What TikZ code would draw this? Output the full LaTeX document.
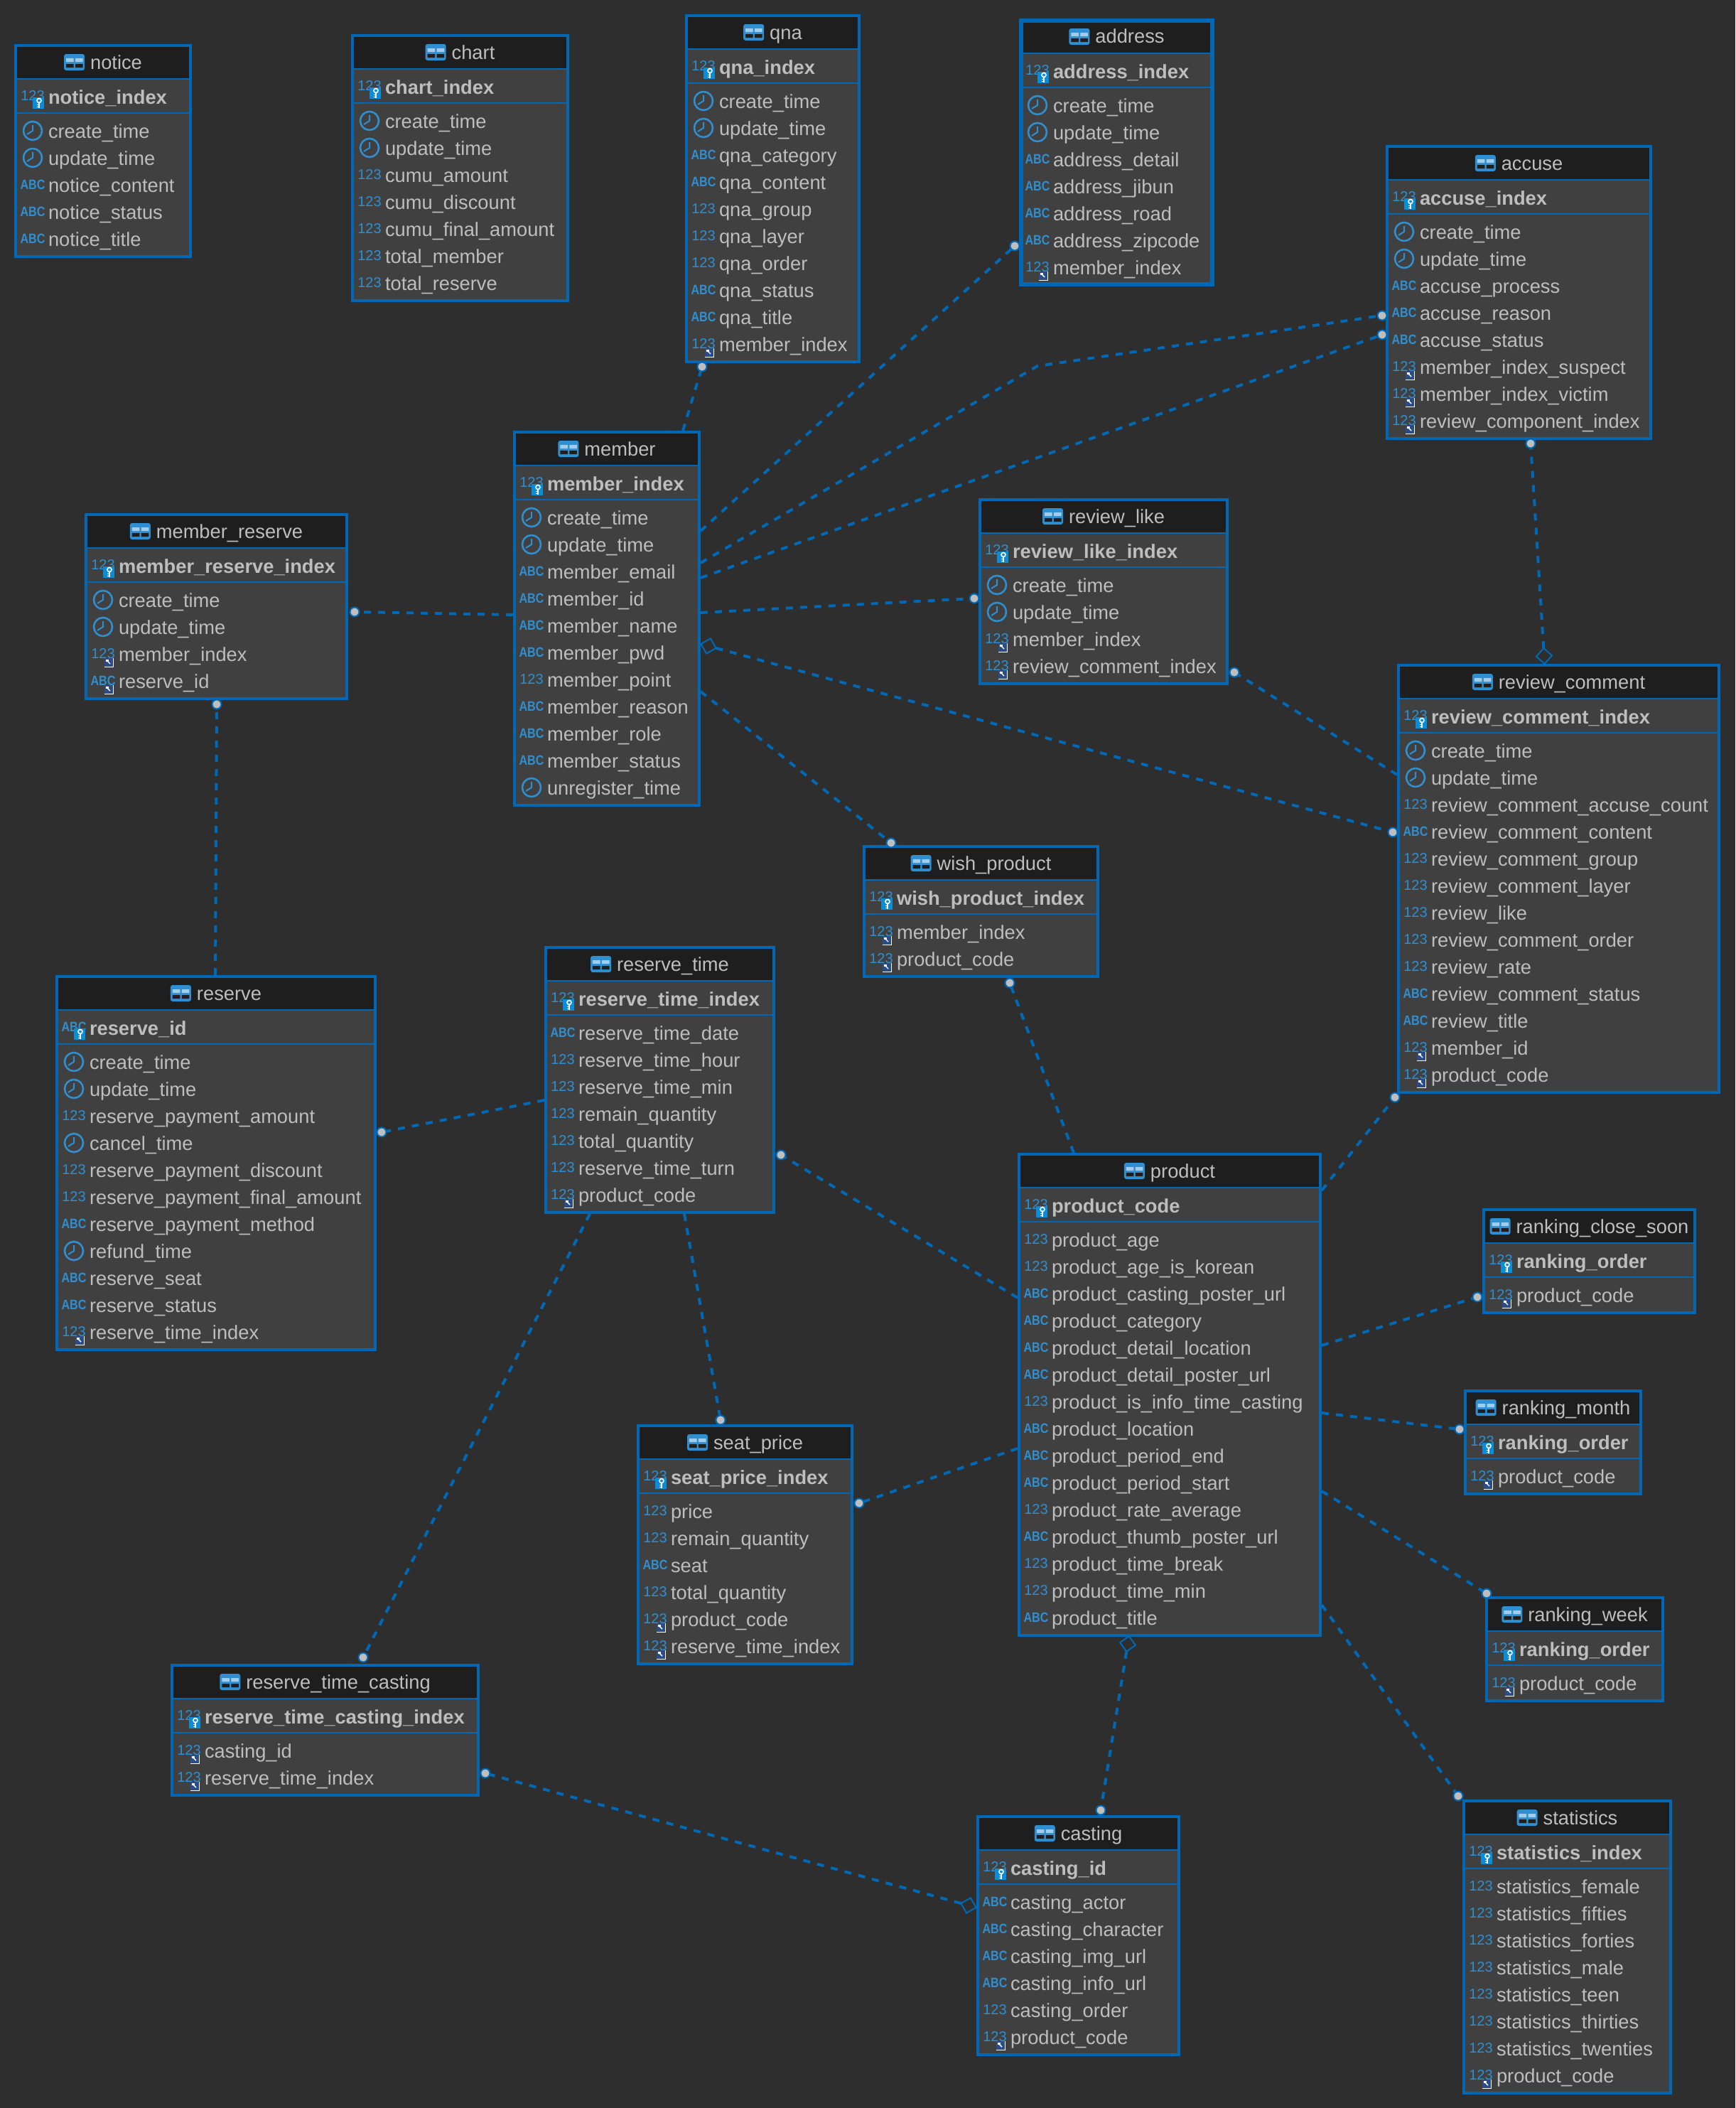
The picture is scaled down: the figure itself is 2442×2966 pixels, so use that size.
\documentclass[tikz,border=0pt]{standalone}
\usepackage{fontspec}
\setmainfont{Liberation Sans}
\usetikzlibrary{shapes.geometric,calc}
\definecolor{bgc}{HTML}{2E2E2E}
\definecolor{tablec}{HTML}{404040}
\definecolor{headc}{HTML}{1E1E1E}
\definecolor{bordc}{HTML}{0068B4}
\definecolor{textc}{HTML}{BEBEBE}
\definecolor{iconc}{HTML}{2F8FD0}
\definecolor{keyc}{HTML}{0A8CD6}
\definecolor{fkc}{HTML}{2B4C86}
\catcode`\_=12
\tikzset{
  x=0.5pt,y=-0.5pt,
  tablebox/.style={rectangle,inner sep=0pt,outer sep=0pt,fill=tablec,draw=bordc},
  rowtext/.style={inner sep=0pt,outer sep=0pt,anchor=base west,text=textc,font=\fontsize{13.65pt}{16pt}\selectfont},
  keytext/.style={rowtext,font=\fontsize{13.65pt}{16pt}\selectfont\bfseries},
  titletext/.style={rowtext,anchor=base},
  numicon/.style={inner sep=0pt,outer sep=0pt,text=iconc,font=\fontsize{10pt}{11pt}\selectfont},
  abcicon/.style={numicon,font=\fontsize{9.6pt}{11pt}\selectfont\bfseries,xscale=.84},
  sepline/.style={draw=bordc,line width=1pt},
  relline/.style={draw=bordc,line width=2pt,dash pattern=on 5pt off 5pt},
  fkdot/.style={circle,inner sep=0pt,outer sep=0pt,minimum size=6.5pt,fill=textc,draw=bordc,line width=1pt},
  pkdiamond/.style={diamond,aspect=1,inner sep=0pt,outer sep=0pt,minimum size=11pt,draw=bordc,line width=1pt},
}
% clock at centre (#1,#2)
\newcommand{\clockicon}[2]{%
  \draw[iconc,line width=1.3pt] (#1,#2) circle[radius=6.5pt];
  \draw[iconc,line width=1pt] (#1,#2-8) -- (#1,#2) -- (#1-8,#2+5);
}
% FK overlay with its left top corner at (#1,#2)
\newcommand{\fkbadge}[2]{%
  \fill[fkc] (#1,#2) rectangle (#1+12,#2+12);
  \draw[white,line width=.5pt] (#1+12,#2) -- (#1+12,#2+12) -- (#1,#2+12);
  \draw[white,line width=.7pt] (#1+3,#2+3) -- (#1+8,#2+8);
  \fill[white] (#1+2,#2+2) rectangle (#1+6,#2+5);
}
% key overlay at left top corner (#1,#2)
\newcommand{\keybadge}[2]{%
  \fill[keyc] (#1,#2) rectangle (#1+16,#2+16);
  \draw[white,line width=.8pt] (#1+9,#2+4.5) circle[radius=3];
  \draw[white,line width=.9pt] (#1+9,#2+7) -- (#1+9,#2+15);
  \draw[white,line width=.6pt] (#1+9,#2+10.5) -- (#1+6,#2+10.5) (#1+9,#2+13.5) -- (#1+6,#2+13.5);
}
% [border] name x1 y0 x2 keytype title key rows
\newcommand{\ertable}[9][4]{%
  \foreach \rt/\rs [count=\c] in {#9} {\xdef\rowcount{\c}}
  \node[tablebox,line width=#1*0.5pt,
    minimum width={(#5-#3-#1)*0.5pt},
    minimum height={(111+38*\rowcount-#1)*0.5pt}]
    (#2) at ({(#3+#5)/2},{#4+(111+38*\rowcount)/2}) {};
  \fill[headc] (#3+#1,#4+#1) rectangle (#5-#1,#4+48);
  \draw[sepline] (#3+#1,#4+49) -- (#5-#1,#4+49);
  \draw[sepline] (#3+#1,#4+97) -- (#5-#1,#4+97);
  \node[titletext] (#2-title) at ({(#3+#5)/2+18.5},#4+35) {#7};
  \begin{scope}[shift={(#2-title.base west)}]
    \fill[iconc,rounded corners=1.5pt] (-37,-21) rectangle (-8,2);
    \fill[iconc!45!white] (-34,-15) rectangle (-23.5,-10) (-21,-15) rectangle (-10.5,-10);
    \fill[headc] (-34,-7) rectangle (-23.5,-2) (-21,-7) rectangle (-10.5,-2);
  \end{scope}
  \node[keytext] (#2-key) at (#3+48,#4+84) {#8};
  \if n#6
    \node[numicon] (#2-keyicon) at (#3+26,#4+73) {123};
  \else
    \node[abcicon] (#2-keyicon) at (#3+26,#4+73) {ABC};
  \fi
  \keybadge{#3+26}{#4+75}
  \foreach \rt/\rs [count=\i] in {#9} {
    \pgfmathsetmacro{\cy}{#4+124+38*(\i-1)}
    \node[rowtext] (#2-row\i) at (#3+48,\cy+8) {\rs};
    \if c\rt \clockicon{#3+26}{\cy-2}\fi
    \if n\rt \node[numicon] (#2-icon\i) at (#3+26,\cy-2) {123};\fi
    \if a\rt \node[abcicon] (#2-icon\i) at (#3+26,\cy-2) {ABC};\fi
    \if F\rt \node[numicon] (#2-icon\i) at (#3+26,\cy-2) {123};\fkbadge{#3+28}{\cy+4}\fi
    \if G\rt \node[abcicon] (#2-icon\i) at (#3+26,\cy-2) {ABC};\fkbadge{#3+28}{\cy+4}\fi
  }
}
\begin{document}
\begin{tikzpicture}
\useasboundingbox (0,0) rectangle (2442,2966);
\fill[bgc] (0,0) rectangle (2442,2966);

\ertable{notice}{20}{62}{270}{n}{notice}{notice_index}{c/create_time,c/update_time,a/notice_content,a/notice_status,a/notice_title}
\ertable{chart}{494}{48}{801}{n}{chart}{chart_index}{c/create_time,c/update_time,n/cumu_amount,n/cumu_discount,n/cumu_final_amount,n/total_member,n/total_reserve}
\ertable{qna}{964}{20}{1211}{n}{qna}{qna_index}{c/create_time,c/update_time,a/qna_category,a/qna_content,n/qna_group,n/qna_layer,n/qna_order,a/qna_status,a/qna_title,F/member_index}
\ertable[6]{address}{1434}{26}{1709}{n}{address}{address_index}{c/create_time,c/update_time,a/address_detail,a/address_jibun,a/address_road,a/address_zipcode,F/member_index}
\ertable{accuse}{1950}{204}{2325}{n}{accuse}{accuse_index}{c/create_time,c/update_time,a/accuse_process,a/accuse_reason,a/accuse_status,F/member_index_suspect,F/member_index_victim,F/review_component_index}
\ertable{member}{722}{606}{986}{n}{member}{member_index}{c/create_time,c/update_time,a/member_email,a/member_id,a/member_name,a/member_pwd,n/member_point,a/member_reason,a/member_role,a/member_status,c/unregister_time}
\ertable{member_reserve}{119}{722}{490}{n}{member_reserve}{member_reserve_index}{c/create_time,c/update_time,F/member_index,G/reserve_id}
\ertable{review_like}{1377}{701}{1729}{n}{review_like}{review_like_index}{c/create_time,c/update_time,F/member_index,F/review_comment_index}
\ertable{review_comment}{1966}{934}{2421}{n}{review_comment}{review_comment_index}{c/create_time,c/update_time,n/review_comment_accuse_count,a/review_comment_content,n/review_comment_group,n/review_comment_layer,n/review_like,n/review_comment_order,n/review_rate,a/review_comment_status,a/review_title,F/member_id,F/product_code}
\ertable{wish_product}{1214}{1189}{1547}{n}{wish_product}{wish_product_index}{F/member_index,F/product_code}
\ertable{reserve_time}{766}{1331}{1091}{n}{reserve_time}{reserve_time_index}{a/reserve_time_date,n/reserve_time_hour,n/reserve_time_min,n/remain_quantity,n/total_quantity,n/reserve_time_turn,F/product_code}
\ertable{reserve}{78}{1372}{530}{a}{reserve}{reserve_id}{c/create_time,c/update_time,n/reserve_payment_amount,c/cancel_time,n/reserve_payment_discount,n/reserve_payment_final_amount,a/reserve_payment_method,c/refund_time,a/reserve_seat,a/reserve_status,F/reserve_time_index}
\ertable{product}{1432}{1622}{1860}{n}{product}{product_code}{n/product_age,n/product_age_is_korean,a/product_casting_poster_url,a/product_category,a/product_detail_location,a/product_detail_poster_url,n/product_is_info_time_casting,a/product_location,a/product_period_end,a/product_period_start,n/product_rate_average,a/product_thumb_poster_url,n/product_time_break,n/product_time_min,a/product_title}
\ertable{ranking_close_soon}{2086}{1700}{2387}{n}{ranking_close_soon}{ranking_order}{F/product_code}
\ertable{ranking_month}{2060}{1955}{2311}{n}{ranking_month}{ranking_order}{F/product_code}
\ertable{ranking_week}{2090}{2246}{2342}{n}{ranking_week}{ranking_order}{F/product_code}
\ertable{seat_price}{896}{2004}{1201}{n}{seat_price}{seat_price_index}{n/price,n/remain_quantity,a/seat,n/total_quantity,F/product_code,F/reserve_time_index}
\ertable{reserve_time_casting}{240}{2341}{675}{n}{reserve_time_casting}{reserve_time_casting_index}{F/casting_id,F/reserve_time_index}
\ertable{casting}{1374}{2554}{1661}{n}{casting}{casting_id}{a/casting_actor,a/casting_character,a/casting_img_url,a/casting_info_url,n/casting_order,F/product_code}
\ertable{statistics}{2058}{2532}{2353}{n}{statistics}{statistics_index}{n/statistics_female,n/statistics_fifties,n/statistics_forties,n/statistics_male,n/statistics_teen,n/statistics_thirties,n/statistics_twenties,F/product_code}

% connector ends on table borders
\coordinate (e1) at (961,606);
\coordinate (e2) at (986,747);
\coordinate (e3) at (986,792);
\coordinate (bend3) at (1460,515);
\coordinate (e4) at (986,813);
\coordinate (e5) at (986,862);
\coordinate (e7) at (986,973);
\coordinate (e8) at (722,865);
\coordinate (e9) at (303,1372);
\coordinate (e11) at (1966,1090);
\coordinate (e12) at (766,1548);
\coordinate (e13) at (1432,1826);
\coordinate (e14) at (1511,1622);
\coordinate (e15) at (1860,1675);
\coordinate (e16) at (1860,1893);
\coordinate (e17) at (1860,1988);
\coordinate (e18) at (1860,2098);
\coordinate (e19) at (1860,2258);
\coordinate (e21) at (1432,2038);
\coordinate (e22) at (963,1708);
\coordinate (e23) at (830,1708);

% dots and diamonds
\node[fkdot] (d1) at (988,516) {};
\node[fkdot] (d2) at (1428,346) {};
\node[fkdot] (d3) at (1945,444) {};
\node[fkdot] (d4) at (1945,471) {};
\node[fkdot] (d5) at (1371,842) {};
\node[pkdiamond,rotate=-15.2] (m6) at (997,909) {};
\node[fkdot] (d6) at (1960,1171) {};
\node[fkdot] (d7) at (1254,1186) {};
\node[fkdot] (d8) at (499,861) {};
\node[fkdot] (d9) at (305,991) {};
\node[fkdot] (d10) at (2154,624) {};
\node[pkdiamond,rotate=3.6] (m10) at (2173,923) {};
\node[fkdot] (d11) at (1737,946) {};
\node[fkdot] (d12) at (537,1593) {};
\node[fkdot] (d13) at (1099,1625) {};
\node[fkdot] (d14) at (1421,1383) {};
\node[fkdot] (d15) at (1963,1544) {};
\node[fkdot] (d16) at (2079,1825) {};
\node[fkdot] (d17) at (2054,2011) {};
\node[fkdot] (d18) at (2092,2242) {};
\node[fkdot] (d19) at (2052,2527) {};
\node[fkdot] (d20) at (1549,2547) {};
\node[pkdiamond,rotate=-9.2] (m20) at (1587,2313) {};
\node[fkdot] (d21) at (1209,2115) {};
\node[fkdot] (d22) at (1014,1998) {};
\node[fkdot] (d23) at (511,2332) {};
\node[fkdot] (d24) at (683,2495) {};
\node[pkdiamond,rotate=-15.3] (m24) at (1363,2681) {};

% connectors, dashed from the parent end
\draw[relline] (e1) -- (d1);
\draw[relline] (e2) -- (d2);
\draw[relline] (e3) -- (bend3) -- (d3);
\draw[relline] (e4) -- (d4);
\draw[relline] (e5) -- (d5);
\draw[relline] (m6) -- (d6);
\draw[relline] (e7) -- (d7);
\draw[relline] (e8) -- (d8);
\draw[relline] (e9) -- (d9);
\draw[relline] (m10) -- (d10);
\draw[relline] (e11) -- (d11);
\draw[relline] (e12) -- (d12);
\draw[relline] (e13) -- (d13);
\draw[relline] (e14) -- (d14);
\draw[relline] (e15) -- (d15);
\draw[relline] (e16) -- (d16);
\draw[relline] (e17) -- (d17);
\draw[relline] (e18) -- (d18);
\draw[relline] (e19) -- (d19);
\draw[relline] (m20) -- (d20);
\draw[relline] (e21) -- (d21);
\draw[relline] (e22) -- (d22);
\draw[relline] (e23) -- (d23);
\draw[relline] (m24) -- (d24);
\end{tikzpicture}
\end{document}
